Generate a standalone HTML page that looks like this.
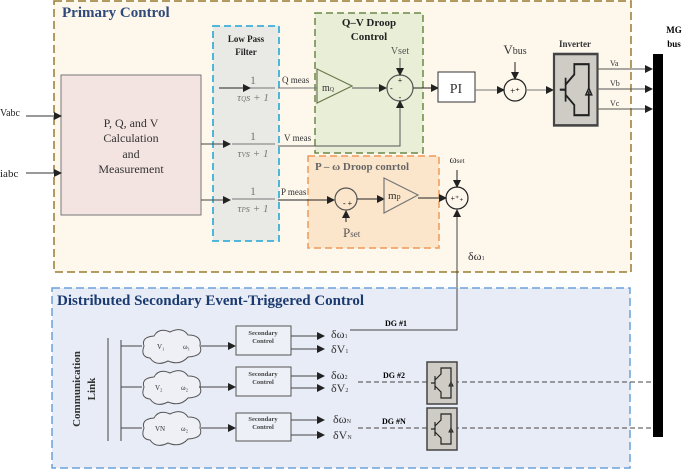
<!DOCTYPE html>
<html><head><meta charset="utf-8"><style>
html,body{margin:0;padding:0;background:#fff;}
svg{display:block;font-family:"Liberation Serif",serif;}
</style></head><body>
<svg width="685" height="471" viewBox="0 0 685 471" xmlns="http://www.w3.org/2000/svg">
<defs>
<marker id="a" markerWidth="8" markerHeight="8" refX="7" refY="4" orient="auto" markerUnits="userSpaceOnUse"><path d="M0,0 L8,4 L0,8 Z" fill="#222"/></marker>
<g id="igbt">
<rect x="0" y="0" width="30" height="42" fill="#cfccc6" stroke="#444" stroke-width="1.5"/>
<path d="M8,14 V28 M8,21 H4 M8,18 L14,12 V6 H24 V20 M8,24 L14,30 V36 H24 V22" fill="none" stroke="#222" stroke-width="1.2"/>
<path d="M22,24 L24,20 L26,24 Z" fill="none" stroke="#222"/>
</g>
</defs>
<!-- Primary -->
<rect x="54" y="1" width="577" height="271" fill="#fdf7ec" stroke="#9a7c30" stroke-width="1.5" stroke-dasharray="8,4"/>
<text x="62" y="17" font-size="15" font-weight="bold" fill="#2f4a7a">Primary Control</text>
<rect x="213" y="26" width="66" height="215" fill="#e9eae6" stroke="#3bb0d8" stroke-width="1.8" stroke-dasharray="7,4"/>
<text x="246" y="42" font-size="9" font-weight="bold" text-anchor="middle" fill="#222">Low Pass</text>
<text x="246" y="55" font-size="9" font-weight="bold" text-anchor="middle" fill="#222">Filter</text>
<rect x="315" y="13" width="108" height="140" fill="#e9efd6" stroke="#6a8a4a" stroke-width="1.5" stroke-dasharray="7,4"/>
<text x="369" y="26" font-size="11" font-weight="bold" text-anchor="middle" fill="#222">Q–V Droop</text>
<text x="369" y="40" font-size="11" font-weight="bold" text-anchor="middle" fill="#222">Control</text>
<rect x="308" y="156" width="131" height="92" fill="#fbe6cc" stroke="#f0985a" stroke-width="1.5" stroke-dasharray="7,4"/>
<text x="315" y="170" font-size="11" font-weight="bold" fill="#666">P – ω Droop conrtol</text>
<!-- calc box -->
<rect x="61" y="75" width="140" height="140" fill="#f3e4e2" stroke="#777" stroke-width="1"/>
<text x="131" y="127" font-size="12" text-anchor="middle" fill="#333">P, Q, and V</text>
<text x="131" y="142" font-size="12" text-anchor="middle" fill="#333">Calculation</text>
<text x="131" y="158" font-size="12" text-anchor="middle" fill="#333">and</text>
<text x="131" y="173" font-size="12" text-anchor="middle" fill="#333">Measurement</text>
<text x="0" y="116" font-size="10" fill="#222">Vabc</text>
<text x="0" y="177" font-size="11" fill="#222">iabc</text>
<line x1="26" y1="116" x2="61" y2="116" stroke="#333" marker-end="url(#a)"/>
<line x1="26" y1="173" x2="61" y2="173" stroke="#333" marker-end="url(#a)"/>
<!-- filters -->
<g font-size="11" fill="#777" text-anchor="middle" font-style="italic">
<text x="253" y="84" font-style="normal" font-size="12">1</text><text x="253" y="101">τ<tspan font-size="7">Q</tspan>s + 1</text>
<text x="253" y="140" font-style="normal" font-size="12">1</text><text x="253" y="157">τ<tspan font-size="7">V</tspan>s + 1</text>
<text x="253" y="195" font-style="normal" font-size="12">1</text><text x="253" y="212">τ<tspan font-size="7">P</tspan>s + 1</text>
</g>
<line x1="232" y1="88" x2="275" y2="88" stroke="#777"/>
<line x1="232" y1="144" x2="275" y2="144" stroke="#777"/>
<line x1="232" y1="199" x2="275" y2="199" stroke="#777"/>
<line x1="219" y1="88" x2="250" y2="88" stroke="#222" marker-end="url(#a)"/>
<line x1="201" y1="144" x2="230" y2="144" stroke="#444" marker-end="url(#a)"/>
<line x1="201" y1="200" x2="230" y2="200" stroke="#444" marker-end="url(#a)"/>
<g font-size="9" fill="#333">
<text x="282" y="83">Q meas</text><text x="284" y="141">V meas</text><text x="281" y="195">P meas</text>
</g>
<!-- QV -->
<line x1="278" y1="88" x2="317" y2="88" stroke="#777"/>
<path d="M317,69 L352,86 L317,103 Z" fill="none" stroke="#6a7a50" stroke-width="1.2"/>
<text x="322" y="91" font-size="10" fill="#333">m<tspan font-size="6">Q</tspan></text>
<line x1="352" y1="88" x2="386" y2="88" stroke="#555" marker-end="url(#a)"/>
<circle cx="400" cy="88" r="13" fill="none" stroke="#555" stroke-width="1.2"/>
<text x="400" y="83" font-size="8" text-anchor="middle">+</text><text x="390" y="91" font-size="8">-</text><text x="400" y="100" font-size="8" text-anchor="middle">-</text>
<text x="400" y="54" font-size="10" fill="#555" text-anchor="middle">Vset</text>
<line x1="400" y1="58" x2="400" y2="75" stroke="#555" marker-end="url(#a)"/>
<path d="M278,146 H400 V101" fill="none" stroke="#555" marker-end="url(#a)"/>
<line x1="413" y1="88" x2="438" y2="88" stroke="#222" marker-end="url(#a)"/>
<rect x="438" y="72" width="37" height="30" fill="#fff" stroke="#333"/>
<text x="456" y="93" font-size="14" text-anchor="middle" fill="#333">PI</text>
<line x1="475" y1="90" x2="504" y2="90" stroke="#777" marker-end="url(#a)"/>
<circle cx="515" cy="90" r="11" fill="none" stroke="#222" stroke-width="1.2"/>
<text x="515" y="94" font-size="9" text-anchor="middle">+⁺</text>
<text x="515" y="54" font-size="13" text-anchor="middle" fill="#333">V<tspan font-size="10">bus</tspan></text>
<line x1="515" y1="62" x2="515" y2="79" stroke="#222" marker-end="url(#a)"/>
<line x1="526" y1="90" x2="553" y2="90" stroke="#777" marker-end="url(#a)"/>
<text x="575" y="47" font-size="9" font-weight="bold" text-anchor="middle" fill="#333">Inverter</text>
<g transform="translate(554,54) scale(1.45,1.7)"><use href="#igbt"/></g>
<g stroke="#555"><line x1="597" y1="69" x2="652" y2="69" marker-end="url(#a)"/><line x1="597" y1="89" x2="652" y2="89" marker-end="url(#a)"/><line x1="597" y1="109" x2="652" y2="109" marker-end="url(#a)"/></g>
<g font-size="8" fill="#333"><text x="610" y="66">Va</text><text x="610" y="86">Vb</text><text x="610" y="106">Vc</text></g>
<rect x="653" y="54" width="10" height="383" fill="#000"/>
<text x="674" y="33" font-size="9" font-weight="bold" text-anchor="middle">MG</text>
<text x="674" y="47" font-size="9" font-weight="bold" text-anchor="middle">bus</text>
<!-- P-w -->
<line x1="278" y1="200" x2="334" y2="200" stroke="#222" marker-end="url(#a)"/>
<circle cx="346" cy="199" r="11" fill="none" stroke="#555" stroke-width="1.2"/>
<text x="343" y="206" font-size="8">- +</text>
<line x1="346" y1="222" x2="346" y2="211" stroke="#222" marker-end="url(#a)"/>
<text x="343" y="237" font-size="13" fill="#555">P<tspan font-size="9">set</tspan></text>
<line x1="357" y1="199" x2="384" y2="199" stroke="#222" marker-end="url(#a)"/>
<path d="M384,178 L418,195 L384,213 Z" fill="none" stroke="#777" stroke-width="1.2"/>
<text x="388" y="199" font-size="11" fill="#333">m<tspan font-size="8">p</tspan></text>
<line x1="418" y1="198" x2="446" y2="198" stroke="#222" marker-end="url(#a)"/>
<circle cx="457" cy="198" r="11" fill="none" stroke="#222" stroke-width="1.2"/>
<text x="457" y="201" font-size="8" text-anchor="middle">+⁺₊</text>
<text x="457" y="163" font-size="11" text-anchor="middle" fill="#333">ω<tspan font-size="7">set</tspan></text>
<line x1="457" y1="170" x2="457" y2="187" stroke="#222" marker-end="url(#a)"/>
<text x="468" y="260" font-size="12" fill="#333">δω<tspan font-size="6">1</tspan></text>
<!-- Secondary -->
<rect x="52" y="288" width="578" height="180" fill="#e7ecf6" stroke="#6aa0d8" stroke-width="1.5" stroke-dasharray="8,4"/>
<text x="57" y="305" font-size="15" font-weight="bold" fill="#1a3a70">Distributed Secondary Event-Triggered Control</text>
<path d="M350,330 H457 V210" fill="none" stroke="#444" marker-end="url(#a)"/>
<text x="385" y="326" font-size="8" font-weight="bold">DG #1</text>
<line x1="108" y1="338" x2="108" y2="441" stroke="#444"/>
<line x1="121" y1="340" x2="121" y2="441" stroke="#444"/>
<text transform="translate(80,389) rotate(-90)" font-size="11" font-weight="bold" text-anchor="middle" fill="#333">Communication</text>
<text transform="translate(95,389) rotate(-90)" font-size="11" font-weight="bold" text-anchor="middle" fill="#333">Link</text>
<g stroke="#444" fill="none">
<line x1="121" y1="346" x2="142" y2="346"/><line x1="121" y1="387" x2="142" y2="387"/><line x1="121" y1="428" x2="142" y2="428"/>
</g>
<g fill="#eef0f6" stroke="#555">
<path d="M144,346 q-3,-9 10,-10 q5,-9 16,-4 q12,-6 18,3 q14,0 12,11 q4,10 -12,11 q-8,9 -20,4 q-12,6 -18,-3 q-10,-1 -6,-12 z"/>
<path d="M144,387 q-3,-9 10,-10 q5,-9 16,-4 q12,-6 18,3 q14,0 12,11 q4,10 -12,11 q-8,9 -20,4 q-12,6 -18,-3 q-10,-1 -6,-12 z"/>
<path d="M144,428 q-3,-9 10,-10 q5,-9 16,-4 q12,-6 18,3 q14,0 12,11 q4,10 -12,11 q-8,9 -20,4 q-12,6 -18,-3 q-10,-1 -6,-12 z"/>
</g>
<g font-size="7" fill="#333"><text x="157" y="349">V₁</text><text x="183" y="349">ω₁</text><text x="155" y="390">V₂</text><text x="181" y="390">ω₂</text><text x="155" y="431">VN</text><text x="181" y="431">ω₂</text></g>
<g stroke="#444"><line x1="201" y1="346" x2="235" y2="346" marker-end="url(#a)"/><line x1="199" y1="387" x2="235" y2="387" marker-end="url(#a)"/><line x1="201" y1="428" x2="235" y2="428" marker-end="url(#a)"/></g>
<g fill="#edf0f6" stroke="#555"><rect x="236" y="326" width="55" height="29"/><rect x="236" y="367" width="55" height="29"/><rect x="236" y="413" width="55" height="28"/></g>
<g font-size="6.5" font-weight="bold" fill="#444" text-anchor="middle">
<text x="263" y="335">Secondary</text><text x="263" y="343">Control</text>
<text x="263" y="376">Secondary</text><text x="263" y="384">Control</text>
<text x="263" y="421">Secondary</text><text x="263" y="429">Control</text></g>
<g stroke="#444">
<line x1="291" y1="336" x2="324" y2="336" marker-end="url(#a)"/><line x1="291" y1="349" x2="324" y2="349" marker-end="url(#a)"/>
<line x1="291" y1="376" x2="324" y2="376" marker-end="url(#a)"/><line x1="291" y1="388" x2="324" y2="388" marker-end="url(#a)"/>
<line x1="291" y1="420" x2="324" y2="420" marker-end="url(#a)"/><line x1="291" y1="435" x2="324" y2="435" marker-end="url(#a)"/></g>
<g font-size="12" fill="#333">
<text x="331" y="338">δω<tspan font-size="6">1</tspan></text><text x="331" y="353">δV<tspan font-size="6">1</tspan></text>
<text x="331" y="379">δω<tspan font-size="6">2</tspan></text><text x="331" y="392">δV<tspan font-size="6">2</tspan></text>
<text x="333" y="423">δω<tspan font-size="6">N</tspan></text><text x="333" y="439">δV<tspan font-size="6">N</tspan></text></g>
<g stroke="#444" stroke-dasharray="5,3"><line x1="358" y1="382" x2="653" y2="382"/><line x1="358" y1="428" x2="653" y2="428"/></g>
<text x="383" y="378" font-size="8" font-weight="bold">DG #2</text>
<text x="382" y="424" font-size="8" font-weight="bold">DG #N</text>
<use href="#igbt" x="427" y="362"/>
<use href="#igbt" x="427" y="408"/>
</svg>
</body></html>
